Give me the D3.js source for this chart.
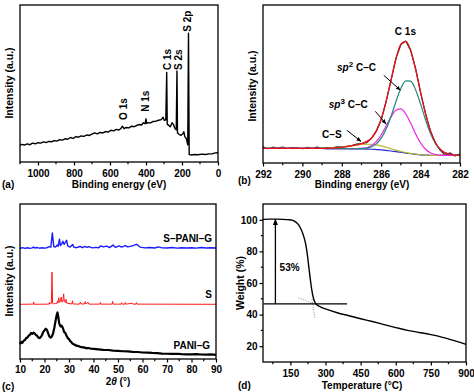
<!DOCTYPE html>
<html><head><meta charset="utf-8">
<script src="https://cdn.jsdelivr.net/npm/d3@7"></script>
<style>
html,body{margin:0;padding:0;background:#fff;}
svg{display:block;font-family:"Liberation Sans",Arial,sans-serif;}
</style></head>
<body>
<svg id="c" width="474" height="392"></svg>
<script>
// ---------- DATA ----------
// (a) XPS survey: binding energy (eV) / intensity (a.u.)
const surveyE = [1100,1090,1075,1060,1045,1030,1015,1000,985,970,955,940,925,910,895,880,865,850,835,820,805,790,775,760,745,730,715,700,685,670,655,640,625,610,595,580,565,550,540,531,522,510,495,480,465,450,435,425,415,405,400,397,390,375,360,345,330,315,305,298,290,285,282,275,265,255,248,240,232,228,225,215,205,195,190,184,176,168,164,160,150,130,110,90,70,50,30,15,5,0];
const surveyI = [10.5,11.2,10.8,11.5,11.0,12.0,11.6,12.3,12.0,12.8,12.4,13.1,12.9,13.6,13.3,14.2,13.9,14.8,14.5,15.6,15.0,16.2,15.8,16.6,16.3,17.2,16.9,17.8,18.6,17.9,18.8,18.5,19.4,19.0,20.2,19.8,20.8,20.4,21.3,22.8,21.2,22.0,21.7,22.8,22.5,23.4,23.9,23.6,25.0,24.4,27.5,24.6,25.1,24.9,25.8,26.0,26.6,27.0,28.5,26.5,26.8,57.0,24.0,23.5,22.5,25.0,24.0,21.5,20.5,58.0,18.5,17.5,17.0,18.0,19.3,16.0,15.0,11.0,82.0,4.8,4.5,4.8,4.6,5.0,4.8,5.2,5.3,5.8,6.0,5.5];
const surveyPeaks = ["O 1s","N 1s","C 1s","S 2s","S 2p"];
const surveyPeakE = [507,383,263,202,150];
const surveyPeakI = [26.8,32,58.6,58.6,83];
const surveyTicks = [1000,800,600,400,200,0];

// (b) C 1s high resolution
const c1sRawE = [292,291.75,291.5,291.25,291,290.75,290.5,290.25,290,289.75,289.5,289.25,289,288.75,288.5,288.25,288,287.75,287.5,287.25,287,286.75,286.5,286.25,286,285.75,285.5,285.25,285,284.75,284.5,284.25,284,283.75,283.5,283.25,283,282.75,282.5,282.25,282];
const c1sRaw = [10.2,9.0,10.0,9.4,10.1,9.2,9.8,9.6,9.0,9.9,9.3,10.0,9.1,9.8,9.4,10.2,10.0,10.6,11.0,11.9,12.3,12.8,15.5,20.3,27.5,39.0,52.4,66.3,75.0,77.2,71.0,59.5,44.5,31.4,20.2,12.6,8.0,5.0,6.4,4.5,5.6];
const c1sFitE = [292,291,290,289,288.5,288,287.5,287,286.5,286.25,286,285.75,285.5,285.25,285,284.75,284.5,284.25,284,283.75,283.5,283.25,283,282.5,282];
const c1sBackground = [9.3,9.3,9.2,9.2,9.1,9.1,9.0,8.9,8.7,8.5,8.3,8.0,7.6,7.2,6.8,6.3,5.9,5.5,5.2,5.0,4.9,4.8,4.8,4.8,4.8];
const c1sCS = [9.3,9.3,9.2,9.26,9.36,9.92,10.83,11.76,11.88,11.44,10.8,9.94,8.99,8.11,7.34,6.6,6.05,5.57,5.23,5.0,4.9,4.8,4.8,4.8,4.8];
const c1sSp3 = [9.3,9.3,9.2,9.2,9.1,9.1,9.02,9.2,10.98,13.5,17.75,23.4,29.2,33.4,34.2,31.0,25.1,18.4,12.65,8.72,6.5,5.4,4.99,4.8,4.8];
const c1sSp2 = [9.3,9.3,9.2,9.2,9.1,9.1,9.02,9.1,10.23,12.09,15.7,21.58,29.6,38.9,47.3,52.0,51.8,46.2,37.3,27.4,18.8,12.4,8.5,5.41,4.86];
const c1sEnvelope = [9.3,9.3,9.2,9.26,9.36,9.92,10.87,12.26,15.69,20.03,27.65,38.92,52.59,66.01,75.24,77.0,71.15,59.17,44.78,31.12,20.4,13.0,8.69,5.41,4.86];
const c1sTicks = [292,290,288,286,284,282];

// (c) XRD: 2theta / intensity (stacked)
const xrdPaniX = [10,10.5,11,11.5,12,12.5,13,13.5,14,14.5,15,15.5,16,16.5,17,17.5,18,18.5,19,19.5,20,20.5,21,21.5,22,22.5,23,23.5,24,24.5,25,25.3,25.6,26,26.5,27,27.5,28,28.5,29,29.5,30,30.5,31,31.5,32,33,34,35,36,37,38,39,40,42,44,46,48,50,52,54,56,58,60,62,64,66,68,70,72,74,76,78,80,82,84,86,88,90];
const xrdPaniY = [9.5,11,10.5,11.8,12.2,13.5,13.8,15,15.5,16.8,16.2,17,16.5,15.5,15,13.8,13.5,14.2,15.5,17.5,18.5,19.5,18.8,16.5,14.5,13.8,14.5,16.5,20,24.5,28.5,30,27.5,23,21,21.5,20,17.5,16.8,15,13.5,12.8,11.5,10.8,9.8,9.5,8.6,8.3,7.6,7.5,7.0,7.1,6.6,6.5,6.2,5.9,5.8,5.4,5.3,5.0,4.9,4.6,4.5,4.2,4.1,3.9,3.8,3.5,3.4,3.3,3.4,3.1,3.0,3.0,3.2,2.9,2.8,3.0,2.7];
const xrdSX = [10,15,15.4,15.6,15.8,21.8,22,22.2,22.8,23.05,23.3,23.8,24.5,25.1,25.3,25.5,25.8,26.1,26.5,26.8,27.1,27.5,27.8,28.1,28.6,28.8,29.1,31.2,31.4,31.6,34.3,34.6,34.9,36.3,36.6,36.9,37.8,38.1,42.6,42.8,43,47.6,47.8,48,51.3,51.5,51.7,52.8,53,53.2,55.9,56.1,57.3,57.5,57.7,90];
const xrdSY = [35.3,35.4,35.3,36.8,35.3,35.4,36.5,35.5,35.8,56,36,35.6,35.8,35.9,37.5,36.2,39.5,36.5,37,40,36.8,37,42,37,36.5,38.5,36,35.5,37.6,35.5,35.4,36.6,35.5,35.5,37,35.5,36.6,35.4,35.4,36.5,35.4,35.4,37.2,35.4,35.4,36.3,35.4,35.4,36.4,35.4,36,35.4,35.4,36.4,35.4,35.3];
const xrdSPGX = [10,11,12,13,14,15,15.5,16,17,18,19,20,21,22,22.6,23.2,23.8,24.5,25.2,25.6,26.1,26.5,27,27.5,28,28.4,29,29.5,30.5,31.5,32,33,34.5,35.5,36.5,37.3,38,39.5,41,42,43,44,45.5,46.5,48,49,50.5,51.5,53,54,55.5,57.5,58,59,61,63,65,66.5,68,70,72,74,76,78,80,82,84,86,88,90];
const xrdSPGY = [71.3,71.9,71.4,71.8,71.4,71.7,72.3,71.6,71.9,71.5,71.8,71.5,71.8,72.5,72.2,81.3,72.5,72.2,73.5,72.8,77.3,73.2,74,76,74,75,76.6,73,72.2,73.8,72.2,71.8,72.6,71.8,72.6,72,72.5,71.7,72,71.7,73,72.3,72.8,71.9,73.5,72,73,72.2,73.1,72.3,72.8,74,73.6,72.2,71.7,71.9,71.6,72.3,71.7,71.6,71.9,71.5,71.8,71.6,71.8,71.5,71.9,71.6,71.8,71.6];
const xrdLabels = ["S\u2013PANI\u2013G","S","PANI\u2013G"];
const xrdTicks = [10,20,30,40,50,60,70,80,90];

// (d) TGA: temperature (°C) / weight (%)
const tgaT = [33,60,90,120,140,157,170,178,186,192,200,207,214,221,228,235,242,249,256,265,280,300,350,400,450,500,550,600,650,700,750,800,850,900];
const tgaW = [100.3,100.4,100.4,100.3,100.1,99.8,98.9,98.0,96.6,95.0,92.5,89.5,85.5,79.5,71.0,62.5,55.0,50.0,47.5,46.0,44.8,43.6,41.2,39.3,37.4,35.6,33.7,31.8,30.0,28.7,27.3,25.6,23.5,21.2];
const tgaXTicks = [150,300,450,600,750,900];
const tgaYTicks = [20,40,60,80,100];

// ---------- DRAWING ----------
const svg = d3.select('#c');
const FONT = '"Liberation Sans",Arial,sans-serif';

function frame(x, y) {
  const [x0, x1] = x.range(), [y0, y1] = y.range();
  svg.append('rect').attr('x', Math.min(x0,x1)).attr('y', Math.min(y0,y1))
    .attr('width', Math.abs(x1-x0)).attr('height', Math.abs(y1-y0))
    .attr('fill','none').attr('stroke','#000').attr('stroke-width',1.3);
}
function bottomAxis(x, yPos, majors, minors, fmt, pad) {
  const g = svg.append('g').attr('transform', `translate(0,${yPos})`)
    .call(d3.axisBottom(x).tickValues(majors).tickSize(3.5).tickPadding(pad==null?4:pad).tickFormat(fmt || d3.format('d')));
  g.select('.domain').remove();
  g.selectAll('line').attr('stroke','#000').attr('stroke-width',1.2);
  g.selectAll('text').attr('font-family',FONT).attr('font-size',10).attr('font-weight','bold').attr('fill','#000');
  g.selectAll('.minor').data(minors).enter().append('line')
    .attr('x1', d=>x(d)).attr('x2', d=>x(d)).attr('y1',0).attr('y2',2.2)
    .attr('stroke','#000').attr('stroke-width',1.2);
  return g;
}
function label(txt, x, y, opts={}) {
  const t = svg.append('text').attr('x',x).attr('y',y).text(txt)
    .attr('font-family',FONT).attr('font-size',opts.size||10).attr('font-weight','bold')
    .attr('text-anchor',opts.anchor||'middle').attr('fill','#000');
  if (opts.rotate) t.attr('transform',`rotate(-90,${x},${y})`);
  return t;
}
function lineOf(xs, ys, x, y, color, width, curve) {
  const pts = xs.map((d,i)=>[d, ys[i]]);
  svg.append('path').datum(pts)
    .attr('d', d3.line().x(d=>x(d[0])).y(d=>y(d[1])).curve(curve||d3.curveLinear))
    .attr('fill','none').attr('stroke',color).attr('stroke-width',width)
    .attr('stroke-linejoin','round');
}
const defs = svg.append('defs');
defs.append('marker').attr('id','ah').attr('viewBox','0 0 10 10').attr('refX',9).attr('refY',5)
  .attr('markerWidth',5).attr('markerHeight',5).attr('orient','auto')
  .append('path').attr('d','M0,1 L10,5 L0,9 Z').attr('fill','#000');
function arrow(x1,y1,x2,y2,w) {
  svg.append('line').attr('x1',x1).attr('y1',y1).attr('x2',x2).attr('y2',y2)
    .attr('stroke','#000').attr('stroke-width',w||1).attr('marker-end','url(#ah)');
}

// ---- (a) ----
{
  const x = d3.scaleLinear().domain([1100,0]).range([20,218]);
  const y = d3.scaleLinear().domain([0,100]).range([162,5]);
  lineOf(surveyE, surveyI, x, y, '#000', 1.4);
  frame(x,y);
  bottomAxis(x, 162, surveyTicks, [1100,900,700,500,300,100]);
  surveyPeaks.forEach((p,i)=> label(p, x(surveyPeakE[i]), y(surveyPeakI[i]), {anchor:'start', rotate:true}));
  label('Intensity (a.u.)', 13, 83, {rotate:true, size:10.5});
  label('Binding energy (eV)', 119, 188);
  label('(a)', 2, 188, {anchor:'start'});
}

// ---- (b) ----
{
  const x = d3.scaleLinear().domain([292,282]).range([263,460]);
  const y = d3.scaleLinear().domain([0,100]).range([163,5]);
  lineOf(c1sRawE, c1sRaw, x, y, '#222', 1.2);
  lineOf(c1sFitE, c1sBackground, x, y, '#2a2ad0', 1.2, d3.curveMonotoneX);
  lineOf(c1sFitE, c1sCS, x, y, '#b8b832', 1.2, d3.curveMonotoneX);
  lineOf(c1sFitE, c1sSp3, x, y, '#f020e8', 1.2, d3.curveMonotoneX);
  lineOf(c1sFitE, c1sSp2, x, y, '#1f8a7a', 1.2, d3.curveMonotoneX);
  lineOf(c1sFitE, c1sEnvelope, x, y, '#e8121c', 1.3, d3.curveMonotoneX);
  frame(x,y);
  bottomAxis(x, 163, c1sTicks, [291,289,287,285,283]);
  label('C 1s', x(284.77), y(80.7));
  const sp = (sup, ex, ey) => {
    const t = svg.append('text').attr('x',x(ex)).attr('y',y(ey)).attr('font-family',FONT)
      .attr('font-size',10).attr('font-weight','bold');
    t.append('tspan').attr('font-style','italic').text('sp');
    t.append('tspan').attr('dy',-4).attr('font-size',8).text(sup);
    t.append('tspan').attr('dy',4).text(' C\u2013C');
  };
  sp('2',288.24,58.4);
  sp('3',288.66,34.8);
  label('C\u2013S', x(289.0), y(16.1), {anchor:'start'});
  arrow(x(285.87),y(55.5),x(285.03),y(46.1));
  arrow(x(286.3),y(32.7),x(285.76),y(24.8));
  arrow(x(287.74),y(20.7),x(287.03),y(13.7));
  label('Intensity (a.u.)', 256, 86, {rotate:true, size:10.5});
  label('Binding energy (eV)', 362, 188);
  label('(b)', 238, 184, {anchor:'start'});
}

// ---- (c) ----
{
  const x = d3.scaleLinear().domain([10,90]).range([20,216]);
  const y = d3.scaleLinear().domain([0,100]).range([359,204]);
  lineOf(xrdPaniX, xrdPaniY, x, y, '#000', 2.2);
  lineOf(xrdSX, xrdSY, x, y, '#ff1a1a', 1);
  lineOf(xrdSPGX, xrdSPGY, x, y, '#1a1aff', 1.4);
  frame(x,y);
  bottomAxis(x, 359, xrdTicks, [15,25,35,45,55,65,75,85], null, 3);
  label(xrdLabels[0], 212, 242, {anchor:'end'});
  label(xrdLabels[1], 212, 298, {anchor:'end'});
  label(xrdLabels[2], 210, 349, {anchor:'end'});
  label('Intensity (a.u.)', 13, 281, {rotate:true, size:10.5});
  const xl = svg.append('text').attr('x',118).attr('y',385).attr('text-anchor','middle')
    .attr('font-family',FONT).attr('font-size',10).attr('font-weight','bold');
  xl.append('tspan').text('2');
  xl.append('tspan').attr('font-style','italic').text('\u03B8');
  xl.append('tspan').text(' (\u00B0)');
  label('(c)', 2, 390, {anchor:'start'});
}

// ---- (d) ----
{
  const x = d3.scaleLinear().domain([33,900]).range([263,466]);
  const y = d3.scaleLinear().domain([10,110]).range([362,204]);
  svg.append('line').attr('x1',x(185)).attr('y1',y(50.7)).attr('x2',x(256)).attr('y2',y(46.5))
    .attr('stroke','#888').attr('stroke-width',1).attr('stroke-dasharray','1,1.5');
  svg.append('line').attr('x1',x(242)).attr('y1',y(49.7)).attr('x2',x(254)).attr('y2',y(38))
    .attr('stroke','#888').attr('stroke-width',1).attr('stroke-dasharray','1,1.5');
  lineOf(tgaT, tgaW, x, y, '#000', 1.4, d3.curveMonotoneX);
  svg.append('line').attr('x1',x(35)).attr('x2',x(392)).attr('y1',y(46.8)).attr('y2',y(46.8))
    .attr('stroke','#000').attr('stroke-width',1.3);
  arrow(x(86), y(46.8), x(86), y(100.3), 1.3);
  label('53%', x(104), y(67.6), {anchor:'start'});
  frame(x,y);
  bottomAxis(x, 362, tgaXTicks, [75,225,375,525,675,825]);
  const gy = svg.append('g').attr('transform','translate(263,0)')
    .call(d3.axisLeft(y).tickValues(tgaYTicks).tickSize(3.5).tickPadding(2).tickFormat(d3.format('d')));
  gy.select('.domain').remove();
  gy.selectAll('line').attr('stroke','#000').attr('stroke-width',1.2);
  gy.selectAll('text').attr('font-family',FONT).attr('font-size',10).attr('font-weight','bold');
  gy.selectAll('.minor').data([30,50,70,90]).enter().append('line')
    .attr('x1',0).attr('x2',-2.2).attr('y1',d=>y(d)).attr('y2',d=>y(d))
    .attr('stroke','#000').attr('stroke-width',1.2);
  label('Weight (%)', 244, 283, {rotate:true, size:10.5});
  label('Temperature (\u00B0C)', 362, 389);
  label('(d)', 238, 389, {anchor:'start'});
}
</script>
</body></html>
